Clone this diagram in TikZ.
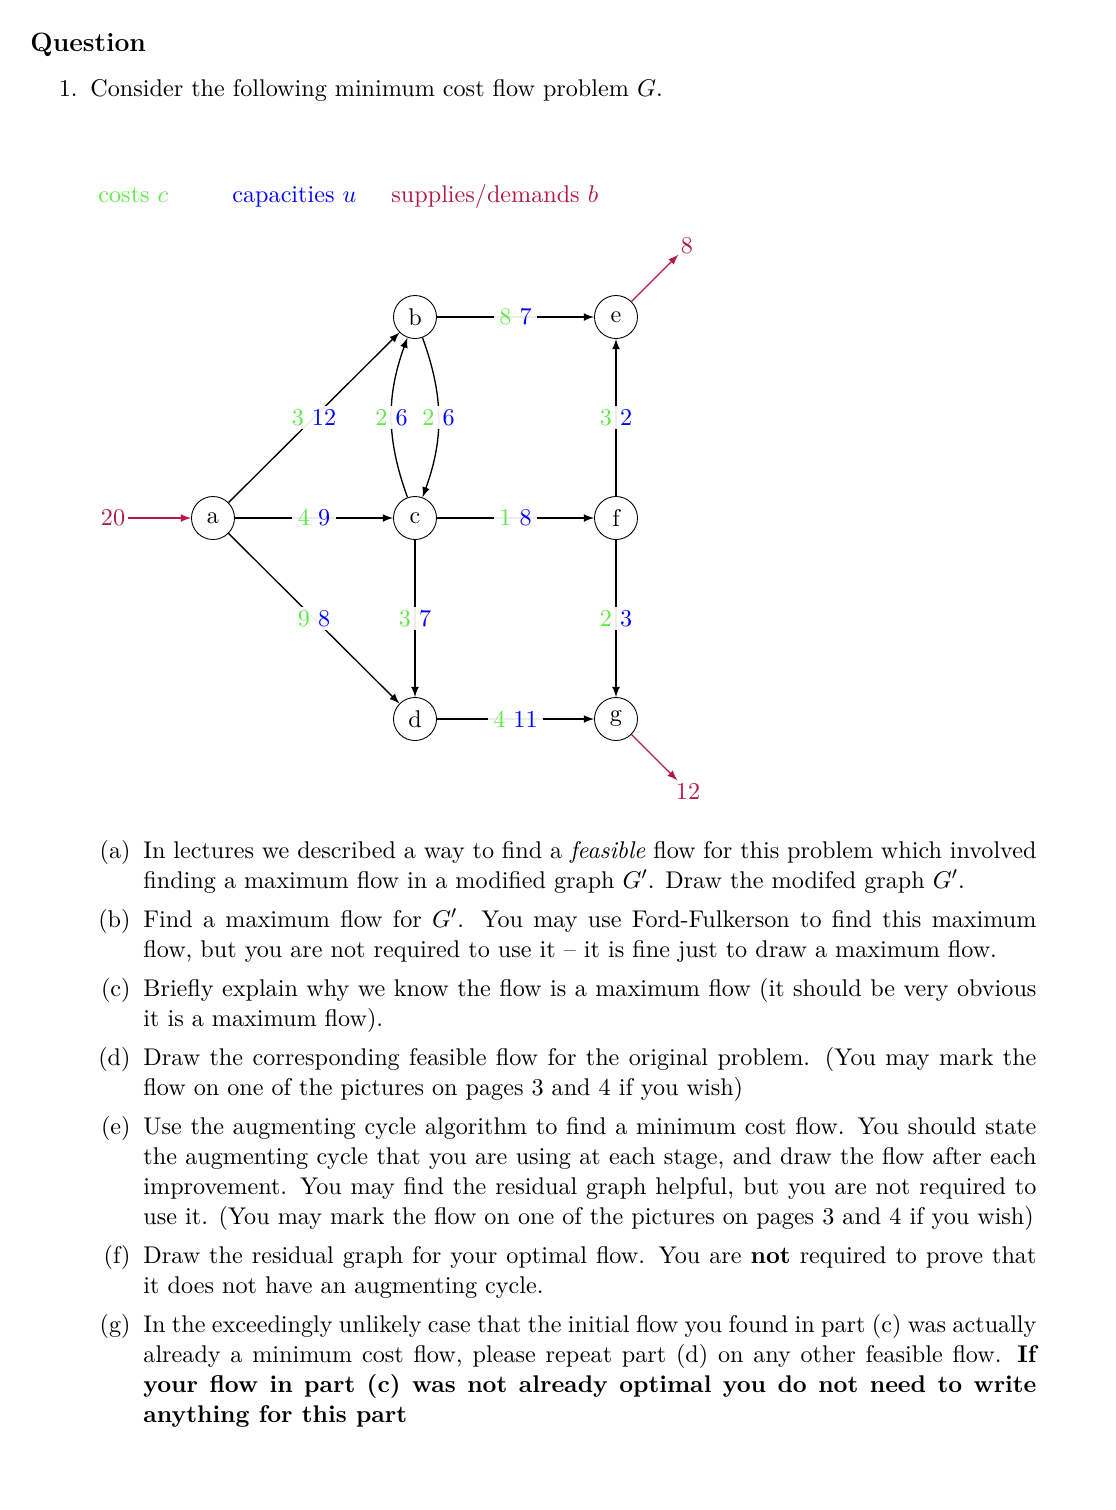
\documentclass[tikz,border=0pt]{standalone}
\definecolor{costc}{RGB}{95,235,70}
\definecolor{capc}{RGB}{0,0,255}
\definecolor{supc}{RGB}{180,25,70}
\begin{document}
\begin{tikzpicture}[x=0.4533pt,y=-0.4533pt,
  font=\fontsize{10.95}{13.6}\selectfont,
  vert/.style={draw, circle, thin, minimum size=19.5pt, inner sep=0pt},
  edgeline/.style={semithick, -latex},
  supply/.style={semithick, -latex, draw=supc},
  lab/.style={fill=white, fill opacity=0.93, text opacity=1, inner xsep=2.5pt, inner ysep=1.5pt},
  itembox/.style={anchor=north west, inner sep=0pt, text width=404.8pt, align=justify},
  itemlabel/.style={anchor=base east, inner sep=0pt}]
\useasboundingbox (0,0) rectangle (1116,1510);

% heading
\node[anchor=base west, inner sep=0pt, font=\fontsize{12}{14.5}\selectfont\bfseries] (q) at (30,51) {Question};
\node[itemlabel] (n1) at (78,96) {1.};
\node[anchor=base west, inner sep=0pt] (t1) at (90,96) {Consider the following minimum cost flow problem $G$.};

% legend
\node[anchor=base west, inner sep=0pt, text=costc] (lc) at (98,202) {costs $c$};
\node[anchor=base west, inner sep=0pt, text=capc] (lu) at (232,202) {capacities $u$};
\node[anchor=base west, inner sep=0pt, text=supc] (lb) at (391,202) {supplies/demands $b$};

% vertices
\node[vert] (a) at (213,518) {a};
\node[vert] (b) at (415,317) {b};
\node[vert] (c) at (415,518) {c};
\node[vert] (d) at (415,719) {d};
\node[vert] (e) at (616,317) {e};
\node[vert] (f) at (616,518) {f};
\node[vert] (g) at (616,719) {g};

% edges
\draw[edgeline] (a) -- node[lab]{\textcolor{costc}{3} \textcolor{capc}{12}} (b);
\draw[edgeline] (a) -- node[lab]{\textcolor{costc}{4} \textcolor{capc}{9}} (c);
\draw[edgeline] (a) -- node[lab]{\textcolor{costc}{9} \textcolor{capc}{8}} (d);
\draw[edgeline] (b) -- node[lab]{\textcolor{costc}{8} \textcolor{capc}{7}} (e);
\draw[edgeline] (c) to[bend left=20] node[lab]{\textcolor{costc}{2} \textcolor{capc}{6}} (b);
\draw[edgeline] (b) to[bend left=20] node[lab]{\textcolor{costc}{2} \textcolor{capc}{6}} (c);
\draw[edgeline] (c) -- node[lab]{\textcolor{costc}{1} \textcolor{capc}{8}} (f);
\draw[edgeline] (c) -- node[lab]{\textcolor{costc}{3} \textcolor{capc}{7}} (d);
\draw[edgeline] (f) -- node[lab]{\textcolor{costc}{3} \textcolor{capc}{2}} (e);
\draw[edgeline] (f) -- node[lab]{\textcolor{costc}{2} \textcolor{capc}{3}} (g);
\draw[edgeline] (d) -- node[lab]{\textcolor{costc}{4} \textcolor{capc}{11}} (g);

% supplies / demands
\node[text=supc, inner sep=1pt] (s20) at (113,518) {20};
\node[text=supc, inner sep=1pt] (s8) at (687,246) {8};
\node[text=supc, inner sep=1pt] (s12) at (688,791) {12};
\draw[supply] (s20) -- (a);
\draw[supply] (e) -- (s8);
\draw[supply] (g) -- (s12);

% items
\node[itemlabel] (la) at (131,858) {(a)};
\node[itembox] (ia) at (143,837) {\strut In lectures we described a way to find a \emph{feasible} flow for this problem which involved finding a maximum flow in a modified graph $G'$. Draw the modifed graph $G'$.};
\node[itemlabel] (lbb) at (131,927) {(b)};
\node[itembox] (ib) at (143,906) {\strut Find a maximum flow for $G'$. You may use Ford-Fulkerson to find this maximum flow, but you are not required to use it -- it is fine just to draw a maximum flow.};
\node[itemlabel] (lcc) at (131,996) {(c)};
\node[itembox] (ic) at (143,975) {\strut Briefly explain why we know the flow is a maximum flow (it should be very obvious it is a maximum flow).};
\node[itemlabel] (ld) at (131,1065) {(d)};
\node[itembox] (id) at (143,1044) {\strut Draw the corresponding feasible flow for the original problem. (You may mark the flow on one of the pictures on pages 3 and 4 if you wish)};
\node[itemlabel] (le) at (131,1134) {(e)};
\node[itembox] (ie) at (143,1113) {\strut Use the augmenting cycle algorithm to find a minimum cost flow. You should state the augmenting cycle that you are using at each stage, and draw the flow after each improvement. You may find the residual graph helpful, but you are not required to use it. (You may mark the flow on one of the pictures on pages 3 and 4 if you wish)};
\node[itemlabel] (lf) at (131,1263) {(f)};
\node[itembox] (if) at (143,1242) {\strut Draw the residual graph for your optimal flow. You are \textbf{not} required to prove that\linebreak it does not have an augmenting cycle.};
\node[itemlabel] (lg) at (131,1332) {(g)};
\node[itembox] (ig) at (143,1311) {\strut In the exceedingly unlikely case that the initial flow you found in part (c) was actually already a minimum cost flow, please repeat part (d) on any other feasible flow. \textbf{If your flow in part (c) was not already optimal you do not need to write anything for this part}};
\end{tikzpicture}
\end{document}
